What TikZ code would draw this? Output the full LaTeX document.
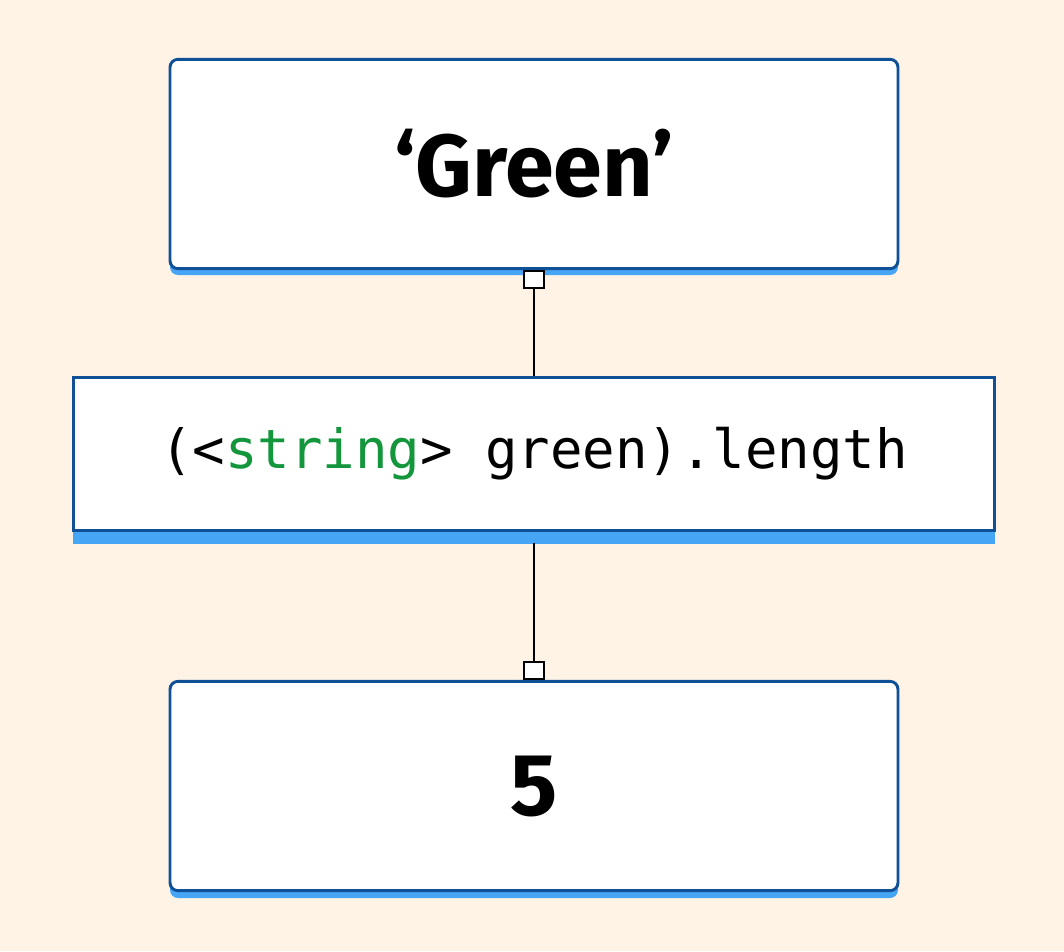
\documentclass[tikz,border=0pt]{standalone}
\usepackage{fontspec}
\setmainfont{Fira Sans}
\setmonofont{DejaVu Sans Mono}
\usetikzlibrary{positioning}
\definecolor{bgcream}{RGB}{254,243,228}
\definecolor{boxblue}{RGB}{16,80,150}
\definecolor{shadeblue}{RGB}{70,165,245}
\definecolor{strgreen}{RGB}{20,150,60}
\tikzset{
	valbox/.style={draw=boxblue, line width=2.2pt, fill=white, rounded corners=6pt, minimum width=546pt, minimum height=157pt, font=\bfseries\fontsize{66}{72}\selectfont},
	exprbox/.style={draw=boxblue, line width=2.2pt, fill=white, minimum width=691pt, minimum height=115pt, font=\ttfamily\fontsize{40.5}{46}\selectfont},
	port/.style={draw=black, line width=1.5pt, fill=white, minimum width=15pt, minimum height=13pt, inner sep=0pt},
}
\begin{document}
\begin{tikzpicture}[x=0.75pt,y=0.75pt,yscale=-1,xscale=1]
	\fill[bgcream] (0,0) rectangle (1064,951);

	\fill[shadeblue, rounded corners=6pt] (170,70) rectangle (898,275);
	\node[valbox] (green) at (534,164) {‘Green’};
	\fill[shadeblue] (73,390) rectangle (995,544);
	\node[exprbox] (len) at (534,454) {(<\textcolor{strgreen}{string}> green).length};
	\fill[shadeblue, rounded corners=6pt] (170,694) rectangle (898,898);
	\node[valbox] (five) at (534,786) {5};

	\node[port, anchor=north] (topport) at (green.south) {};
	\node[port, anchor=south] (botport) at (five.north) {};
	\draw[line width=1.5pt] (topport) -- (len);
	\path (len.south) ++(0,11) coordinate (lenfoot);
	\draw[line width=1.5pt] (lenfoot) -- (botport);
\end{tikzpicture}
\end{document}
